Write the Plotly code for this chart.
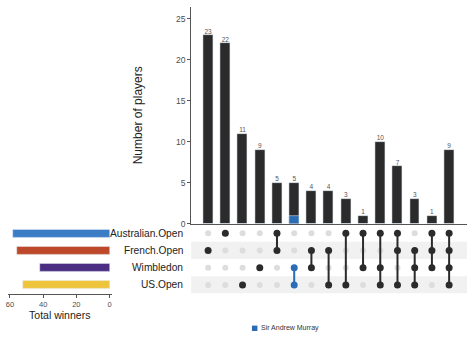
import plotly.graph_objects as go

# ---- data ----
sets = ["Australian.Open", "French.Open", "Wimbledon", "US.Open"]
set_totals = [58, 56, 42, 52]
set_colors = ["#3a7dc5", "#be482a", "#4b2d82", "#eec43c"]

# membership of each intersection column (indices into sets)
members = [
    [1], [0], [3], [2], [0, 1], [2, 3], [1, 2], [1, 3],
    [0, 3], [0, 2], [0, 2, 3], [0, 1, 3], [1, 2, 3], [0, 1, 2], [0, 1, 2, 3],
]
counts = [23, 22, 11, 9, 5, 5, 4, 4, 3, 1, 10, 7, 3, 1, 9]
murray = [0, 0, 0, 0, 0, 1, 0, 0, 0, 0, 0, 0, 0, 0, 0]
murray_col = 5
legend_label = "Sir Andrew Murray"

DARK = "#2b2b2b"
BLUE = "#2a6db5"
GREY_TXT = "#4d4d4d"
FONT = "Liberation Sans, Arial, sans-serif"

cols = list(range(len(counts)))
fig = go.Figure()

# main intersection bars
fig.add_trace(go.Bar(
    x=cols, y=counts, marker_color=DARK, width=0.58,
    showlegend=False, hoverinfo="skip", xaxis="x", yaxis="y",
))
fig.add_trace(go.Bar(
    x=cols, y=murray, marker_color=BLUE, width=0.58,
    name=legend_label, showlegend=False,
    hoverinfo="skip", xaxis="x", yaxis="y",
))
# count labels above bars
fig.add_trace(go.Scatter(
    x=cols, y=counts, mode="text", text=[str(c) for c in counts],
    textposition="top center", cliponaxis=False,
    textfont=dict(size=6.5, color="#555555", family=FONT),
    showlegend=False, hoverinfo="skip", xaxis="x", yaxis="y",
))

# matrix: empty dots
ex, ey, fx, fy = [], [], [], []
for c, m in enumerate(members):
    for r in range(len(sets)):
        if r in m:
            if c != murray_col:
                fx.append(c); fy.append(r)
        else:
            ex.append(c); ey.append(r)
fig.add_trace(go.Scatter(x=ex, y=ey, mode="markers",
                         marker=dict(size=6, color="#dddddd"),
                         showlegend=False, hoverinfo="skip", xaxis="x2", yaxis="y2"))
# connecting lines
lx, ly = [], []
for c, m in enumerate(members):
    if len(m) > 1 and c != murray_col:
        lx += [c, c, None]; ly += [min(m), max(m), None]
fig.add_trace(go.Scatter(x=lx, y=ly, mode="lines", line=dict(color=DARK, width=2),
                         showlegend=False, hoverinfo="skip", xaxis="x2", yaxis="y2"))
fig.add_trace(go.Scatter(x=fx, y=fy, mode="markers",
                         marker=dict(size=7, color=DARK),
                         showlegend=False, hoverinfo="skip", xaxis="x2", yaxis="y2"))
mm = members[murray_col]
fig.add_trace(go.Scatter(x=[murray_col] * len(mm), y=mm, mode="lines+markers",
                         line=dict(color=BLUE, width=2), marker=dict(size=7, color=BLUE),
                         showlegend=False, hoverinfo="skip", xaxis="x2", yaxis="y2"))

# set size bars
fig.add_trace(go.Bar(
    x=set_totals, y=list(range(len(sets))), orientation="h",
    marker_color=set_colors, width=0.47, showlegend=False, hoverinfo="skip",
    xaxis="x3", yaxis="y3",
))

W, H = 474, 338
def px(v): return v / W
def py(v): return (H - v) / H

xr = [-0.983, 15.04]
mat_dom = [py(298), py(228)]

# stripes
shapes = []
for r in [1, 3]:
    shapes.append(dict(type="rect", xref="x2 domain", yref="y2", x0=0, x1=1,
                       y0=r - 0.5, y1=r + 0.5, fillcolor="#f1f1f1", line_width=0,
                       layer="below"))
# manual legend key
shapes.append(dict(type="rect", xref="paper", yref="paper",
                   x0=px(251), x1=px(256.5), y0=py(336), y1=py(330.5),
                   fillcolor=BLUE, line_width=0))

annotations = []
for i, s in enumerate(sets):
    annotations.append(dict(text=s, x=px(184), xref="paper", y=i, yref="y2",
                            xanchor="right", yanchor="middle", showarrow=False,
                            font=dict(size=10.2, color="#222222", family=FONT)))
annotations.append(dict(text=legend_label, x=px(258), y=py(333.3), xref="paper",
                        yref="paper", xanchor="left", yanchor="middle", showarrow=False,
                        font=dict(size=7, color="#333333", family=FONT)))

fig.update_layout(
    width=W, height=H, margin=dict(l=0, r=0, t=0, b=0),
    paper_bgcolor="white", plot_bgcolor="rgba(0,0,0,0)",
    font=dict(family=FONT, color=GREY_TXT),
    barmode="overlay", bargap=0, showlegend=False,
    shapes=shapes, annotations=annotations,
    xaxis=dict(domain=[px(190), px(467)], range=xr, anchor="y",
               showticklabels=False, ticks="", showgrid=False, zeroline=False,
               showline=True, linecolor="#555555", linewidth=1),
    yaxis=dict(domain=[py(227), py(7)], range=[0, 26.45], anchor="x",
               tickvals=[0, 5, 10, 15, 20, 25], ticks="outside", ticklen=3,
               tickcolor="#555555", tickfont=dict(size=8.5, color=GREY_TXT),
               showgrid=False, zeroline=False, showline=True, linecolor="#555555",
               linewidth=1,
               title=dict(text="Number of players", font=dict(size=12, color="#222222"),
                          standoff=30)),
    xaxis2=dict(domain=[px(190), px(467)], range=xr, anchor="y2",
                showticklabels=False, ticks="", showgrid=False, zeroline=False,
                showline=False),
    yaxis2=dict(domain=mat_dom, range=[3.5, -0.5], anchor="x2",
                showticklabels=False, ticks="", showgrid=False, zeroline=False,
                showline=False),
    xaxis3=dict(domain=[px(6), px(110)], range=[61.2, -1.2], anchor="y3",
                tickvals=[0, 20, 40, 60], ticks="outside", ticklen=3,
                tickcolor="#555555", tickfont=dict(size=7.5, color=GREY_TXT),
                showgrid=False, zeroline=False, showline=True, linecolor="#555555",
                linewidth=1,
                title=dict(text="Total winners", font=dict(size=10.5, color="#222222"),
                           standoff=2)),
    yaxis3=dict(domain=mat_dom, range=[3.5, -0.5], anchor="x3",
                showticklabels=False, ticks="", showgrid=False, zeroline=False,
                showline=False),
)

fig.write_html("out.html")
